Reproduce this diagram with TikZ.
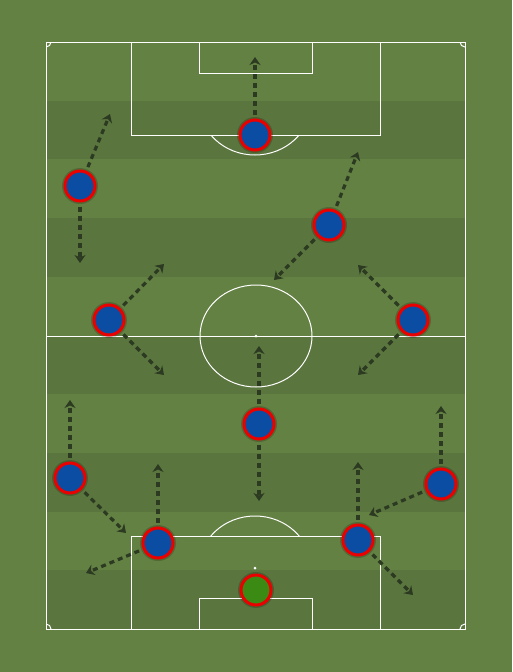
\documentclass[tikz,border=0pt]{standalone}
\usetikzlibrary{arrows.meta}
\definecolor{grassL}{RGB}{99,129,67}
\definecolor{grassD}{RGB}{90,117,62}
\definecolor{arrowc}{RGB}{44,58,34}
\definecolor{pblue}{RGB}{11,77,162}
\definecolor{pred}{RGB}{235,0,0}
\definecolor{pgreen}{RGB}{58,138,20}
\tikzset{
  pitchline/.style={draw=white, line width=1pt},
  player/.style={circle, fill=pblue, draw=pred, line width=3pt, minimum size=30pt, inner sep=0pt},
  keeper/.style={player, fill=pgreen},
  shadowc/.style={fill=black, opacity=0.18},
  move/.style={draw=arrowc, line width=3.2pt, dash pattern=on 5pt off 4pt,
    -{Stealth[length=8pt,width=11pt,inset=2.5pt]}, shorten <=4pt}
}
\begin{document}
\begin{tikzpicture}[x=1pt,y=-1pt]
\fill[grassL] (0,0) rectangle (512,672);
\useasboundingbox (0,0) rectangle (512,672);
% stripes
\foreach \i in {1,3,5,7,9}{
  \fill[grassD] (46,{42+\i*58.7}) rectangle (465,{42+(\i+1)*58.7});
}
% pitch lines
\draw[pitchline] (46,42) rectangle (465,629);
\draw[pitchline] (46,336) -- (465,336);
\draw[pitchline] (256,336) ellipse [x radius=56, y radius=51];
\fill[white] (256,336) circle (1.5);
% top
\draw[pitchline] (131,42) rectangle (380,135);
\draw[pitchline] (199,42) rectangle (312,73);
\fill[white] (255,103) circle (1.5);
\begin{scope}
  \clip (100,135) rectangle (420,200);
  \draw[pitchline] (255,103) ellipse [x radius=56, y radius=52];
\end{scope}
% bottom
\draw[pitchline] (131,536) rectangle (380,629);
\draw[pitchline] (199,598) rectangle (312,629);
\fill[white] (255,568) circle (1.5);
\begin{scope}
  \clip (100,480) rectangle (420,536);
  \draw[pitchline] (255,568) ellipse [x radius=56, y radius=52];
\end{scope}
% corner arcs
\begin{scope}
  \clip (46,42) rectangle (465,629);
  \draw[pitchline] (46,42) circle (5);
  \draw[pitchline] (465,42) circle (5);
  \draw[pitchline] (46,629) circle (5);
  \draw[pitchline] (465,629) circle (5);
\end{scope}
% shadows
\foreach \p in {(255,135),(80,186),(329,225),(109,320),(413,320),(259,424),(70,478),(441,484),(158,543),(358,540),(256,590)}{
  \fill[shadowc] \p circle (18);
}
% players
\node[player] (p1) at (255,135) {};
\node[player] (p2) at (80,186) {};
\node[player] (p3) at (329,225) {};
\node[player] (p4) at (109,320) {};
\node[player] (p5) at (413,320) {};
\node[player] (p6) at (259,424) {};
\node[player] (p7) at (70,478) {};
\node[player] (p8) at (441,484) {};
\node[player] (p9) at (158,543) {};
\node[player] (p10) at (358,540) {};
\node[keeper] (gk) at (256,590) {};
% targets
\coordinate (t1) at (255,57);
\coordinate (t2a) at (110,114);
\coordinate (t2b) at (80,263);
\coordinate (t3a) at (358,152);
\coordinate (t3b) at (274,280);
\coordinate (t4a) at (164,264);
\coordinate (t4b) at (164,375);
\coordinate (t5a) at (358,265);
\coordinate (t5b) at (358,375);
\coordinate (t6a) at (259,346);
\coordinate (t6b) at (259,501);
\coordinate (t7a) at (70,400);
\coordinate (t7b) at (126,533);
\coordinate (t8a) at (441,406);
\coordinate (t8b) at (369,515);
\coordinate (t9a) at (158,464);
\coordinate (t9b) at (86,573);
\coordinate (t10a) at (358,462);
\coordinate (t10b) at (413,595);
% movements
\draw[move] (p1) -- (t1);
\draw[move] (p2) -- (t2a);
\draw[move] (p2) -- (t2b);
\draw[move] (p3) -- (t3a);
\draw[move] (p3) -- (t3b);
\draw[move] (p4) -- (t4a);
\draw[move] (p4) -- (t4b);
\draw[move] (p5) -- (t5a);
\draw[move] (p5) -- (t5b);
\draw[move] (p6) -- (t6a);
\draw[move] (p6) -- (t6b);
\draw[move] (p7) -- (t7a);
\draw[move] (p7) -- (t7b);
\draw[move] (p8) -- (t8a);
\draw[move] (p8) -- (t8b);
\draw[move] (p9) -- (t9a);
\draw[move] (p9) -- (t9b);
\draw[move] (p10) -- (t10a);
\draw[move] (p10) -- (t10b);
\end{tikzpicture}
\end{document}
